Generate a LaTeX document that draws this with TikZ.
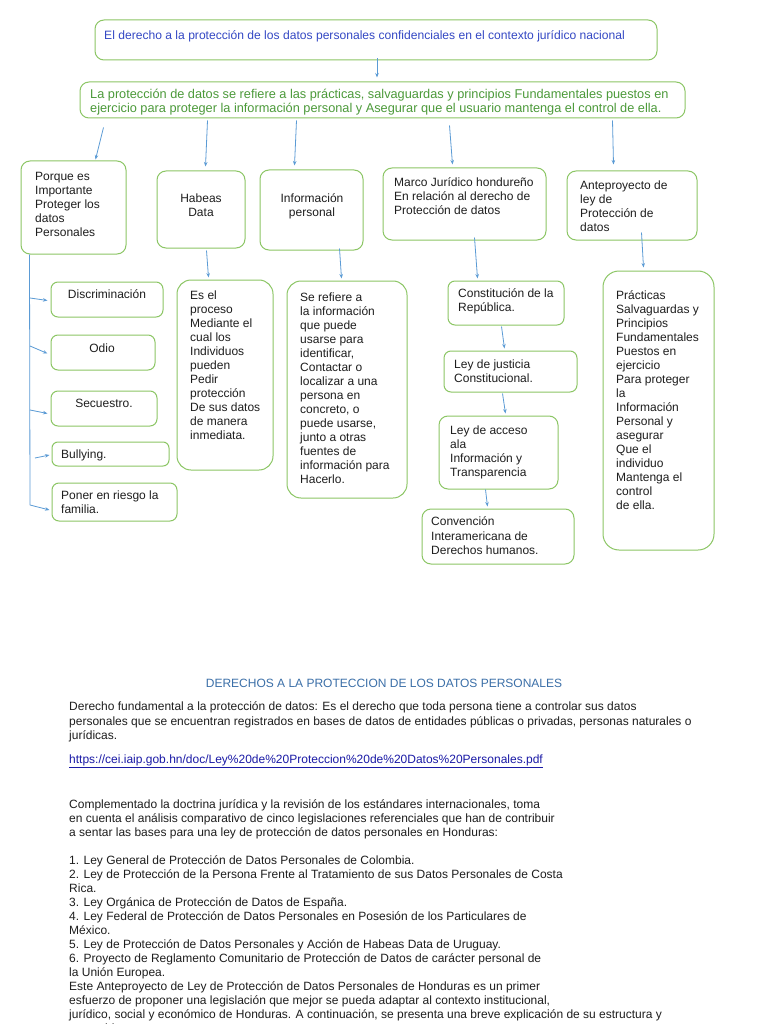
\documentclass[tikz,border=0pt]{standalone}
\usepackage{fontspec}
\setmainfont{Liberation Sans}
\usetikzlibrary{arrows.meta,calc}
\definecolor{bordergreen}{HTML}{8CC665}
\definecolor{arrowblue}{HTML}{5B9BD5}
\definecolor{titleblue}{HTML}{3448C4}
\definecolor{txtgreen}{HTML}{4C9A3A}
\definecolor{headblue}{HTML}{3B6FA8}
\definecolor{linkblue}{HTML}{1A1AA6}
\definecolor{txtgray}{HTML}{1E1E1E}
\newcommand\fsbox{\fontsize{12}{14}\selectfont}
\newcommand\bx[6][]{\node[box,#1,minimum width={#5-#3},minimum height={#6-#4}] (#2) at ({(#3+#5)/2},{(#4+#6)/2}) {};}
\begin{document}
\begin{tikzpicture}[x=1pt,y=-1pt,
  box/.style={draw=bordergreen, line width=1pt, rounded corners=9pt, inner sep=0pt},
  txt/.style={anchor=north west, inner sep=0pt, align=left, font=\fsbox, text=txtgray},
  ctxt/.style={anchor=north, inner sep=0pt, align=center, font=\fsbox, text=txtgray},
  arr/.style={draw=arrowblue, line width=0.8pt, -{Stealth[length=4.5pt,width=3.5pt]}},
  ln/.style={draw=arrowblue, line width=0.8pt}]
\useasboundingbox[fill=white] (0,0) rectangle (768,1024);

% boxes
\bx{t1}{95}{20}{657}{60}
\bx{t2}{80}{82}{685}{118}
\bx{por}{21}{161}{126}{254}
\bx{hab}{157}{171}{245}{248}
\bx{inf}{260}{170}{363}{250}
\bx{mar}{383}{168}{546}{240}
\bx{ant}{567}{171}{697}{240}
\bx[rounded corners=7pt]{dis}{51}{282}{163}{317}
\bx[rounded corners=7pt]{odi}{51}{335}{155}{370}
\bx[rounded corners=7pt]{sec}{51}{391}{157}{426}
\bx[rounded corners=6pt]{bul}{52}{442}{169}{466}
\bx[rounded corners=7pt]{pon}{52}{483}{177}{521}
\bx[rounded corners=14pt]{habt}{177}{280}{273}{470}
\bx[rounded corners=14pt]{inft}{287}{281}{407}{498}
\bx[rounded corners=7pt]{con}{448}{281}{564}{325}
\bx[rounded corners=7pt]{jus}{444}{351}{577}{392}
\bx[rounded corners=9pt]{acc}{439}{416}{558}{489}
\bx[rounded corners=9pt]{conv}{422}{509}{574}{564}
\bx[rounded corners=16pt]{pra}{603}{271}{714}{550}

% texts
\node[txt, text=titleblue, font=\fontsize{12.1}{14}\selectfont] (t1T) at (104,29.5) {\strut El derecho a la protección de los datos personales confidenciales en el contexto jurídico nacional};
\node[txt, text=txtgreen, font=\fontsize{12.75}{14}\selectfont] (t2T) at (90,88.5) {\strut La protección de datos se refiere a las prácticas, salvaguardas y principios Fundamentales puestos en\\ejercicio para proteger la información personal y Asegurar que el usuario mantenga el control de ella.};
\node[txt] (porT) at (35,170.5) {\strut Porque es\\Importante\\Proteger los\\datos\\Personales};
\node[ctxt] (habT) at (201,192.5) {\strut Habeas\\Data};
\node[ctxt] (infT) at (312,192.5) {\strut Información\\personal};
\node[txt] (marT) at (394,176.5) {\strut Marco Jurídico hondureño\\En relación al derecho de\\Protección de datos};
\node[txt] (antT) at (580,179.5) {\strut Anteproyecto de\\ley de\\Protección de\\datos};
\node[ctxt] (disT) at (107,288.5) {\strut Discriminación};
\node[ctxt] (odiT) at (102,342.5) {\strut Odio};
\node[ctxt] (secT) at (104,397.5) {\strut Secuestro.};
\node[txt] (bulT) at (61,448.5) {\strut Bullying.};
\node[txt] (ponT) at (61,489.5) {\strut Poner en riesgo la\\familia.};
\node[txt] (habtT) at (190,289.5) {\strut Es el\\proceso\\Mediante el\\cual los\\Individuos\\pueden\\Pedir\\protección\\De sus datos\\de manera\\inmediata.};
\node[txt] (inftT) at (300,291.5) {\strut Se refiere a\\la información\\que puede\\usarse para\\identificar,\\Contactar o\\localizar a una\\persona en\\concreto, o\\puede usarse,\\junto a otras\\fuentes de\\información para\\Hacerlo.};
\node[txt] (conT) at (458,287.5) {\strut Constitución de la\\República.};
\node[txt] (jusT) at (454,358.5) {\strut Ley de justicia\\Constitucional.};
\node[txt] (accT) at (450,424.5) {\strut Ley de acceso\\ala\\Información y\\Transparencia};
\node[txt, font=\fontsize{12}{14.5}\selectfont] (convT) at (431,515.5) {\strut Convención\\Interamericana de\\Derechos humanos.};
\node[txt] (praT) at (616,289.5) {\strut Prácticas\\Salvaguardas y\\Principios\\Fundamentales\\Puestos en\\ejercicio\\Para proteger\\la\\Información\\Personal y\\asegurar\\Que el\\individuo\\Mantenga el\\control\\de ella.};

% arrows
\draw[arr] ($(t1.south)+(1,-2)$) -- ($(t1.south)+(1,17)$);
\draw[arr] ([shift={(24,9)}]t2.south west) -- ([shift={(75,-1)}]por.north west);
\draw[arr] ([shift={(128,2)}]t2.south west) -- ([shift={(49,-4)}]hab.north west);
\draw[arr] ([shift={(217,2)}]t2.south west) -- ([shift={(35,-4)}]inf.north west);
\draw[arr] ([shift={(370,7)}]t2.south west) -- ([shift={(70,-3)}]mar.north west);
\draw[arr] ([shift={(533,2)}]t2.south west) -- ([shift={(47,-6)}]ant.north west);
\draw[arr] ([shift={(50,2)}]hab.south west) -- ([shift={(32,-2)}]habt.north west);
\draw[arr] ([shift={(80,-2)}]inf.south west) -- ([shift={(55,-2)}]inft.north west);
\draw[arr] ([shift={(92,-3)}]mar.south west) -- ([shift={(30,-2)}]con.north west);
\draw[arr] ([shift={(75,-8)}]ant.south west) -- ([shift={(41,-3)}]pra.north west);
\draw[arr] ([shift={(54,1)}]con.south west) -- ([shift={(61,-2)}]jus.north west);
\draw[arr] ([shift={(59,1)}]jus.south west) -- ([shift={(67,-2)}]acc.north west);
\draw[arr] ([shift={(47,0)}]acc.south west) -- ([shift={(66,-2)}]conv.north west);

% left tree
\coordinate (vtop) at ([xshift=9pt]por.south west);
\coordinate (vd) at (30,298);
\coordinate (vo) at (30,346);
\coordinate (vs) at (30,410);
\coordinate (vb) at (35,458);
\coordinate (vp) at (30,505);
\draw[ln] (vtop) -- (vp);
\draw[arr] (vd) -- ([shift={(-3,1)}]dis.west);
\draw[arr] (vo) -- ([shift={(-3,1)}]odi.west);
\draw[arr] (vs) -- ([shift={(-3,5)}]sec.west);
\draw[arr] (vb) -- ([shift={(-2,1)}]bul.west);
\draw[arr] (vp) -- ([shift={(-2,8)}]pon.west);

% text section
\node[anchor=north, inner sep=0pt, font=\fontsize{12}{14}\selectfont, text=headblue] (head) at (384,677.5) {\strut DERECHOS A LA PROTECCION DE LOS DATOS PERSONALES};
\node[txt, font=\fontsize{12}{14.5}\selectfont] (p1) at (69,700.5) {\strut Derecho fundamental a la protección de datos: Es el derecho que toda persona tiene a controlar sus datos\\personales que se encuentran registrados en bases de datos de entidades públicas o privadas, personas naturales o\\jurídicas.};
\node[txt, text=linkblue] (url) at (69,753.5) {\strut\underline{https://cei.iaip.gob.hn/doc/Ley\%20de\%20Proteccion\%20de\%20Datos\%20Personales.pdf}};
\node[txt, font=\fontsize{12}{14}\selectfont] (p2) at (69,798.5) {\strut Complementado la doctrina jurídica y la revisión de los estándares internacionales, toma\\en cuenta el análisis comparativo de cinco legislaciones referenciales que han de contribuir\\a sentar las bases para una ley de protección de datos personales en Honduras:\\[14pt]1. Ley General de Protección de Datos Personales de Colombia.\\2. Ley de Protección de la Persona Frente al Tratamiento de sus Datos Personales de Costa\\Rica.\\3. Ley Orgánica de Protección de Datos de España.\\4. Ley Federal de Protección de Datos Personales en Posesión de los Particulares de\\México.\\5. Ley de Protección de Datos Personales y Acción de Habeas Data de Uruguay.\\6. Proyecto de Reglamento Comunitario de Protección de Datos de carácter personal de\\la Unión Europea.\\Este Anteproyecto de Ley de Protección de Datos Personales de Honduras es un primer\\esfuerzo de proponer una legislación que mejor se pueda adaptar al contexto institucional,\\jurídico, social y económico de Honduras. A continuación, se presenta una breve explicación de su estructura y\\contenido.};
\end{tikzpicture}
\end{document}
